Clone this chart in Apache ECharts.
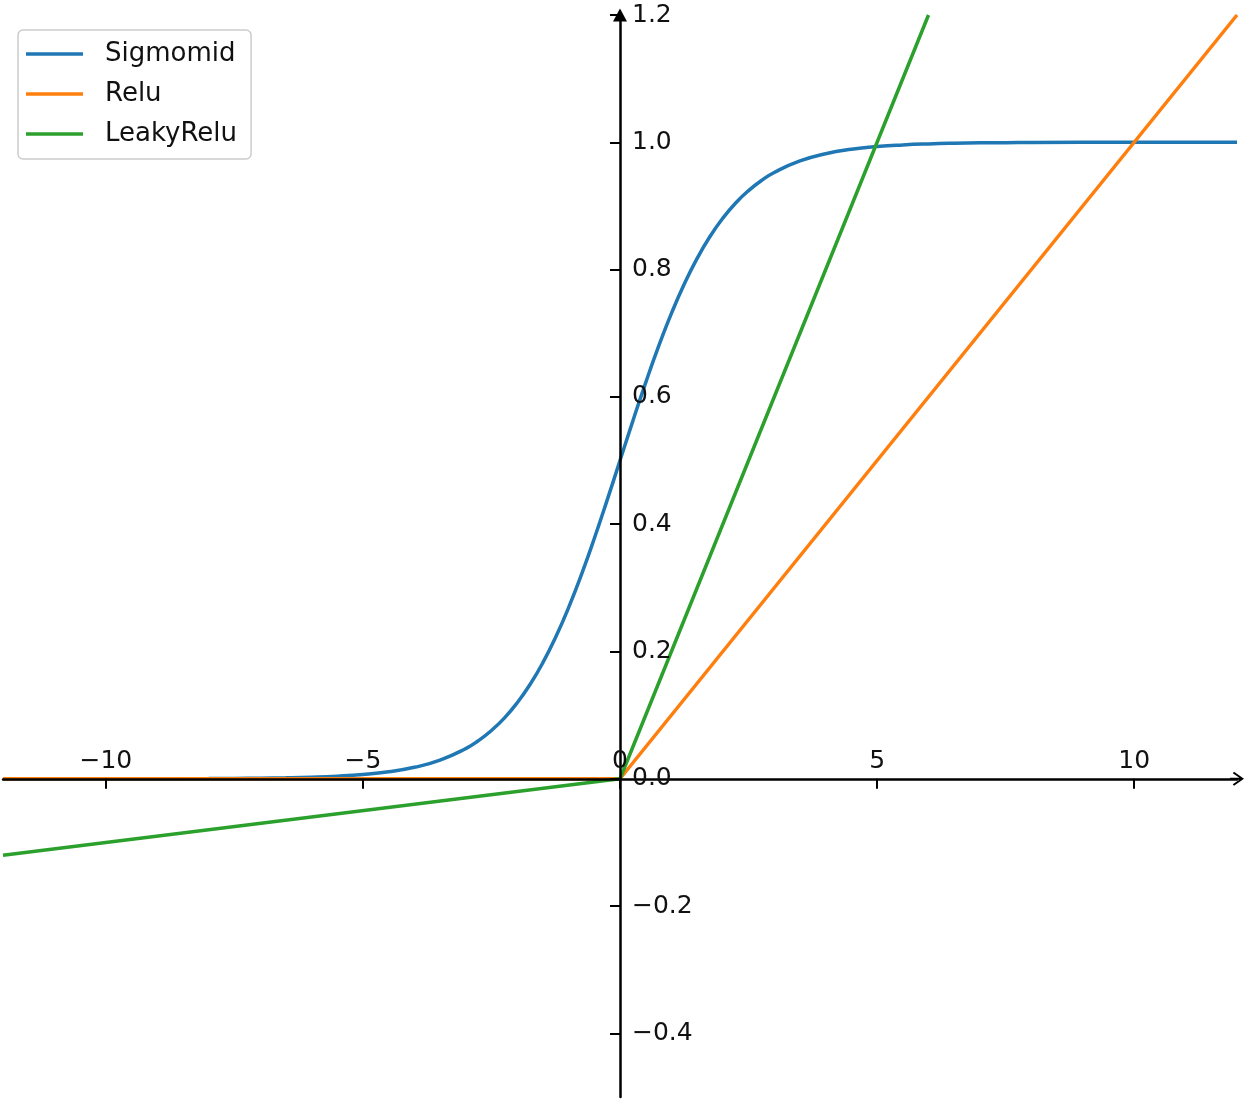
<!DOCTYPE html>
<html>
<head>
<meta charset="utf-8">
<script src="https://cdn.jsdelivr.net/npm/echarts@6/dist/echarts.min.js"></script>
<style>
html,body{margin:0;padding:0;background:#fff;}
#chart{width:1250px;height:1104px;}
</style>
</head>
<body>
<div id="chart"></div>
<script>
// Values
const sigmoidX = [-12, -10, -8, -7.5, -7, -6.5, -6, -5.5, -5, -4.5, -4, -3.5, -3, -2.75, -2.5, -2.25, -2, -1.75, -1.5, -1.25, -1, -0.75, -0.5, -0.25, 0, 0.25, 0.5, 0.75, 1, 1.25, 1.5, 1.75, 2, 2.25, 2.5, 2.75, 3, 3.5, 4, 4.5, 5, 5.5, 6, 6.5, 7, 7.5, 8, 10, 12];
const sigmoidY = [0.0000, 0.0000, 0.0003, 0.0006, 0.0009, 0.0015, 0.0025, 0.0041, 0.0067, 0.0110, 0.0180, 0.0293, 0.0474, 0.0601, 0.0759, 0.0953, 0.1192, 0.1480, 0.1824, 0.2227, 0.2689, 0.3208, 0.3775, 0.4378, 0.5000, 0.5622, 0.6225, 0.6792, 0.7311, 0.7773, 0.8176, 0.8520, 0.8808, 0.9047, 0.9241, 0.9399, 0.9526, 0.9707, 0.9820, 0.9890, 0.9933, 0.9959, 0.9975, 0.9985, 0.9991, 0.9994, 0.9997, 1.0000, 1.0000];
const reluX = [-12, 0, 12];
const reluY = [0, 0, 1.2];
const leakyX = [-12, 0, 6];
const leakyY = [-0.12, 0, 1.2];
const xTicks = [-10, -5, 0, 5, 10];
const yTicks = [-0.4, -0.2, 0, 0.2, 0.4, 0.6, 0.8, 1.0, 1.2];
const seriesNames = ['Sigmomid', 'Relu', 'LeakyRelu'];

function pairs(xs, ys) { return xs.map((x, i) => [x, ys[i]]); }
const minus = s => String(s).replace('-', '\u2212');

const FONT = 'DejaVu Sans';
const chevron = 'path://M7,0 L14,10 L12.4,11.2 L7,3.2 L1.6,11.2 L0,10 Z M6,2 L8,2 L8,14 L6,14 Z';

const X_MIN = -12, X_MAX = 12, Y_MIN = -0.5, Y_MAX = 1.2;
const G = {left: 3, right: 13, top: 15, bottom: 7};
const W = 1250, H = 1104;
const gw = W - G.left - G.right, gh = H - G.top - G.bottom;
// shift the axes from the grid edges onto the zero lines
const xAxisOffset = -(gh * (0 - Y_MIN) / (Y_MAX - Y_MIN));
const yAxisOffset = -(gw * (0 - X_MIN) / (X_MAX - X_MIN));

const chart = echarts.init(document.getElementById('chart'), null, {renderer: 'canvas'});
chart.setOption({
  animation: false,
  backgroundColor: '#ffffff',
  textStyle: {fontFamily: FONT},
  grid: {left: G.left, right: G.right, top: G.top, bottom: G.bottom, containLabel: false},
  legend: {
    orient: 'vertical',
    left: 18, top: 30,
    padding: [11, 14, 12, 8],
    icon: 'rect',
    itemWidth: 57, itemHeight: 3.5, itemGap: 14,
    backgroundColor: 'rgba(255,255,255,0.8)',
    borderColor: '#cccccc', borderWidth: 1.5, borderRadius: 5,
    textStyle: {fontFamily: FONT, fontSize: 26, color: '#111', lineHeight: 26, padding: [0, 0, 0, 17]},
    data: seriesNames
  },
  xAxis: {
    type: 'value', min: X_MIN, max: X_MAX, z: 5, position: 'bottom', offset: xAxisOffset,
    splitLine: {show: false},
    axisLine: {onZero: false, lineStyle: {color: '#000', width: 2.5}, symbol: ['none', chevron], symbolSize: [14, 14]},
    axisTick: {inside: false, length: 10, lineStyle: {color: '#000', width: 2}, customValues: xTicks},
    axisLabel: {inside: true, margin: 5, fontSize: 25, color: '#111', fontFamily: FONT, customValues: xTicks, formatter: v => minus(v)}
  },
  yAxis: {
    type: 'value', min: Y_MIN, max: Y_MAX, z: 5, position: 'left', offset: yAxisOffset,
    splitLine: {show: false},
    axisLine: {onZero: false, lineStyle: {color: '#000', width: 2.5}, symbol: ['none', 'triangle'], symbolSize: [14, 13]},
    axisTick: {inside: false, length: 10, lineStyle: {color: '#000', width: 2}, customValues: yTicks},
    axisLabel: {inside: true, margin: 12, fontSize: 25, color: '#111', fontFamily: FONT, customValues: yTicks, formatter: v => minus(Number(v).toFixed(1))}
  },
  series: [
    {name: seriesNames[0], type: 'line', data: pairs(sigmoidX, sigmoidY), smooth: true, showSymbol: false, symbol: 'none', clip: true, lineStyle: {color: '#1f77b4', width: 3.5}, itemStyle: {color: '#1f77b4'}},
    {name: seriesNames[1], type: 'line', data: pairs(reluX, reluY), showSymbol: false, symbol: 'none', clip: true, lineStyle: {color: '#ff7f0e', width: 3.5}, itemStyle: {color: '#ff7f0e'}},
    {name: seriesNames[2], type: 'line', data: pairs(leakyX, leakyY), showSymbol: false, symbol: 'none', clip: true, lineStyle: {color: '#2ca02c', width: 3.5}, itemStyle: {color: '#2ca02c'}}
  ]
});
</script>
</body>
</html>
